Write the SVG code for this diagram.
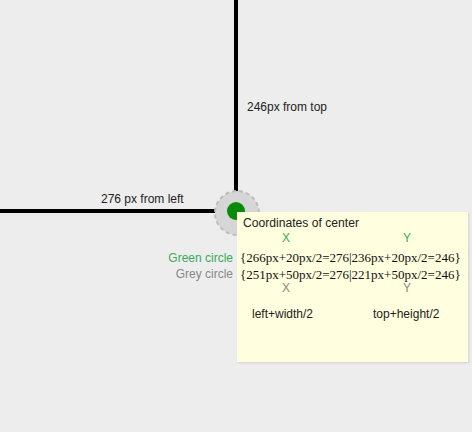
<svg xmlns="http://www.w3.org/2000/svg" width="474" height="435" viewBox="0 0 474 435">
<defs>
<style>
.s{font-family:"Liberation Sans","DejaVu Sans",sans-serif;font-size:12px;fill:#222}
.m{font-family:"Liberation Serif","DejaVu Serif",serif;font-size:13px;fill:#111}
.g{fill:#3aaa5c}
.gr{fill:#888}
.ln{stroke:#000;stroke-width:4;fill:none}
</style>
<filter id="sh" x="-5%" y="-5%" width="110%" height="110%"><feDropShadow dx="1" dy="1" stdDeviation="1" flood-color="#000" flood-opacity="0.12"/></filter>
</defs>
<rect x="0" y="0" width="474" height="435" fill="#ffffff"/>
<rect x="0" y="0" width="472" height="432" fill="#ededed"/>
<g id="connectors">
<line class="ln" x1="236" y1="0" x2="236" y2="212"/>
<line class="ln" x1="0" y1="211" x2="236" y2="211"/>
</g>
<g id="grey-circle">
<circle cx="237" cy="213" r="22" fill="#d6d6d6" stroke="#bdbdbd" stroke-width="2" stroke-dasharray="4 3"/>
</g>
<g id="green-circle">
<circle cx="236" cy="211" r="9" fill="#0a8a0a"/>
</g>
<g id="lines-labels">
<text class="s" x="247" y="111">246px from top</text>
<text class="s" x="101" y="203">276 px from left</text>
</g>
<g id="info-box">
<rect x="237" y="212" width="231" height="150" fill="#fffedf" filter="url(#sh)"/>
<text class="s" x="243" y="227" textLength="116" lengthAdjust="spacingAndGlyphs">Coordinates of center</text>
<text class="s g" x="282" y="242">X</text>
<text class="s g" x="403" y="242">Y</text>
<text class="s g" x="233" y="262" text-anchor="end">Green circle</text>
<text class="m" x="240" y="262">{266px+20px/2=276|236px+20px/2=246}</text>
<text class="s gr" x="233" y="278" text-anchor="end">Grey circle</text>
<text class="m" x="240" y="279">{251px+50px/2=276|221px+50px/2=246}</text>
<text class="s gr" x="282" y="292">X</text>
<text class="s gr" x="403" y="292">Y</text>
<text class="s" x="252" y="318">left+width/2</text>
<text class="s" x="373" y="318">top+height/2</text>
</g>
</svg>
